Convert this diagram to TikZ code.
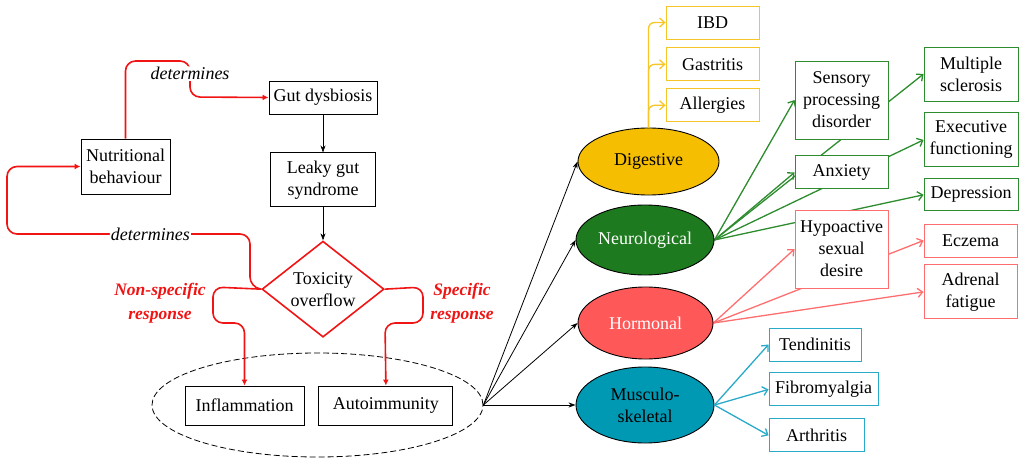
\documentclass[tikz,border=0pt]{standalone}
\usepackage{fontspec}
\setmainfont{Liberation Serif}
\usetikzlibrary{arrows.meta,positioning,shapes.geometric,backgrounds}
\definecolor{myRed}{RGB}{240,20,20}
\definecolor{myGold}{RGB}{245,190,0}
\definecolor{myGoldLine}{RGB}{246,198,40}
\definecolor{myGreen}{RGB}{30,122,30}
\definecolor{myGreenLine}{RGB}{45,140,45}
\definecolor{myPink}{RGB}{255,88,88}
\definecolor{myPinkLine}{RGB}{255,110,110}
\definecolor{myTeal}{RGB}{0,153,180}
\definecolor{myTealLine}{RGB}{40,170,200}

\begin{document}
\begin{tikzpicture}[
    x=1pt, y=-1pt,
    >=Latex,
    every node/.style={font=\fontsize{18}{22}\selectfont},
    box/.style={
        draw,
        fill=white,
        align=center,
        inner sep=2pt,
        line width=0.9pt,
        minimum height=33pt
    },
    cat/.style={ellipse, draw, line width=0.9pt, inner sep=0pt, align=center},
    link/.style={->, line width=0.8pt, >={Stealth[length=7pt,width=5pt]}},
    redlink/.style={->, myRed, line width=1.6pt, rounded corners=10pt,
      >={Latex[length=6pt,width=6pt]}},
    branch/.style={-{Straight Barb[length=5pt,width=9pt]}, line width=1.3pt},
    say/.style={font=\fontsize{18}{22}\selectfont\itshape, text=black,
      fill=white, inner sep=1pt},
    resp/.style={font=\fontsize{17.5}{24}\selectfont\bfseries\itshape,
      text=myRed, align=center}
]
  \useasboundingbox (0,0) rectangle (1024,465);

  % left part
  \node[box, minimum width=89pt, minimum height=55pt] (nut) at (125.5,166.5) {Nutritional\\behaviour};
  \node[box, minimum width=108pt] (gut) at (323,97.5) {Gut dysbiosis};
  \node[box, minimum width=105pt, minimum height=54pt, below=38pt of gut] (leaky) {Leaky gut\\syndrome};
  \node[diamond, draw=myRed, line width=1.6pt, aspect=1.27, inner sep=0pt,
    minimum width=122pt, minimum height=96pt, align=center, below=33pt of leaky] (tox) {Toxicity\\overflow};

  \node[ellipse, draw, line width=0.8pt, dash pattern=on 6pt off 3pt,
    minimum width=331pt, minimum height=104pt] (grp) at (317.5,405) {};
  \node[box, minimum width=119pt, minimum height=39pt] (infl) at (244.5,405.5) {Inflammation};
  \node[box, minimum width=134pt, minimum height=39pt, right=14pt of infl] (auto) {Autoimmunity};

  \node[resp] (nonspec) at (160,303) {Non-specific\\response};
  \node[resp] (spec) at (462,303) {Specific\\response};

  \draw[link, line width=0.6pt] (gut) -- (leaky);
  \draw[link, line width=0.6pt] (leaky) -- (tox);
  \draw[redlink] (nut.north) |- (190,61) -- node[say, pos=0.35] {determines} (190,97) -- (gut.west);
  \draw[redlink] (tox.west) -- (250,287) -- (250,234)
    -- node[say, pos=0.41] {determines} (7,234) |- (nut.west);
  \draw[redlink] (tox.west) -- (213,287) -- (213,323) -- (244.5,323) -- (infl.north);
  \draw[redlink] (tox.east) -- (423,287) -- (423,323) -- (385,323) -- (auto.north);

  % categories
  \node[cat, fill=myGold, minimum width=141pt, minimum height=67pt] (dig) at (648.5,161.5) {Digestive};
  \node[cat, fill=myGreen, text=white, minimum width=138pt, minimum height=70pt] (neuro) at (645,240) {Neurological};
  \node[cat, fill=myPink, text=white, minimum width=135pt, minimum height=72pt] (horm) at (645.5,323) {Hormonal};
  \node[cat, fill=myTeal, minimum width=138pt, minimum height=76pt] (musc) at (645,405) {Musculo-\\skeletal};

  \foreach \c in {dig,neuro,horm,musc}
    \draw[link] (grp.east) -- (\c.west);

  % digestive
  \node[box, draw=myGoldLine, minimum width=93pt] (ibd) at (712.5,22.5) {IBD};
  \node[box, draw=myGoldLine, minimum width=93pt, below=8pt of ibd] (gast) {Gastritis};
  \node[box, draw=myGoldLine, minimum width=93pt, below=7pt of gast] (allerg) {Allergies};
  \foreach \b in {ibd,gast,allerg}
    \draw[branch, myGoldLine, rounded corners=6pt] (dig.north) |- (\b.west);

  % neurological
  \node[box, draw=myGreenLine, minimum width=93pt, minimum height=78pt] (sens) at (841.5,100) {Sensory\\processing\\disorder};
  \node[box, draw=myGreenLine, minimum width=93pt, below=16pt of sens] (anx) {Anxiety};
  \node[box, draw=myGreenLine, minimum width=94pt, minimum height=54pt] (ms) at (971,74) {Multiple\\sclerosis};
  \node[box, draw=myGreenLine, minimum width=94pt, minimum height=54pt, below=11pt of ms] (exec) {Executive\\functioning};
  \node[box, draw=myGreenLine, minimum width=94pt, minimum height=32pt, below=11pt of exec] (dep) {Depression};

  % hormonal
  \node[box, draw=myPinkLine, minimum width=93pt, minimum height=78pt] (hypo) at (841.5,249) {Hypoactive\\sexual\\desire};
  \node[box, draw=myPinkLine, minimum width=93pt] (ecz) at (970.5,240.5) {Eczema};
  \node[box, draw=myPinkLine, minimum width=93pt, minimum height=54pt, below=7pt of ecz] (adren) {Adrenal\\fatigue};

  \begin{scope}[on background layer]
    \foreach \b in {sens,anx,ms,exec,dep}
      \draw[branch, myGreenLine] (neuro.east) -- (\b.west);
    \foreach \b in {hypo,ecz,adren}
      \draw[branch, myPinkLine] (horm.east) -- (\b.west);
  \end{scope}

  % musculo-skeletal
  \node[box, draw=myTealLine, minimum width=92pt] (tend) at (815,344.5) {Tendinitis};
  \node[box, draw=myTealLine, minimum width=109pt, below right=11pt and 0pt of tend.south west] (fibro) {Fibromyalgia};
  \node[box, draw=myTealLine, minimum width=95pt, below right=12pt and 0pt of fibro.south west] (arth) {Arthritis};
  \foreach \b in {tend,fibro,arth}
    \draw[branch, myTealLine] (musc.east) -- (\b.west);
\end{tikzpicture}
\end{document}
